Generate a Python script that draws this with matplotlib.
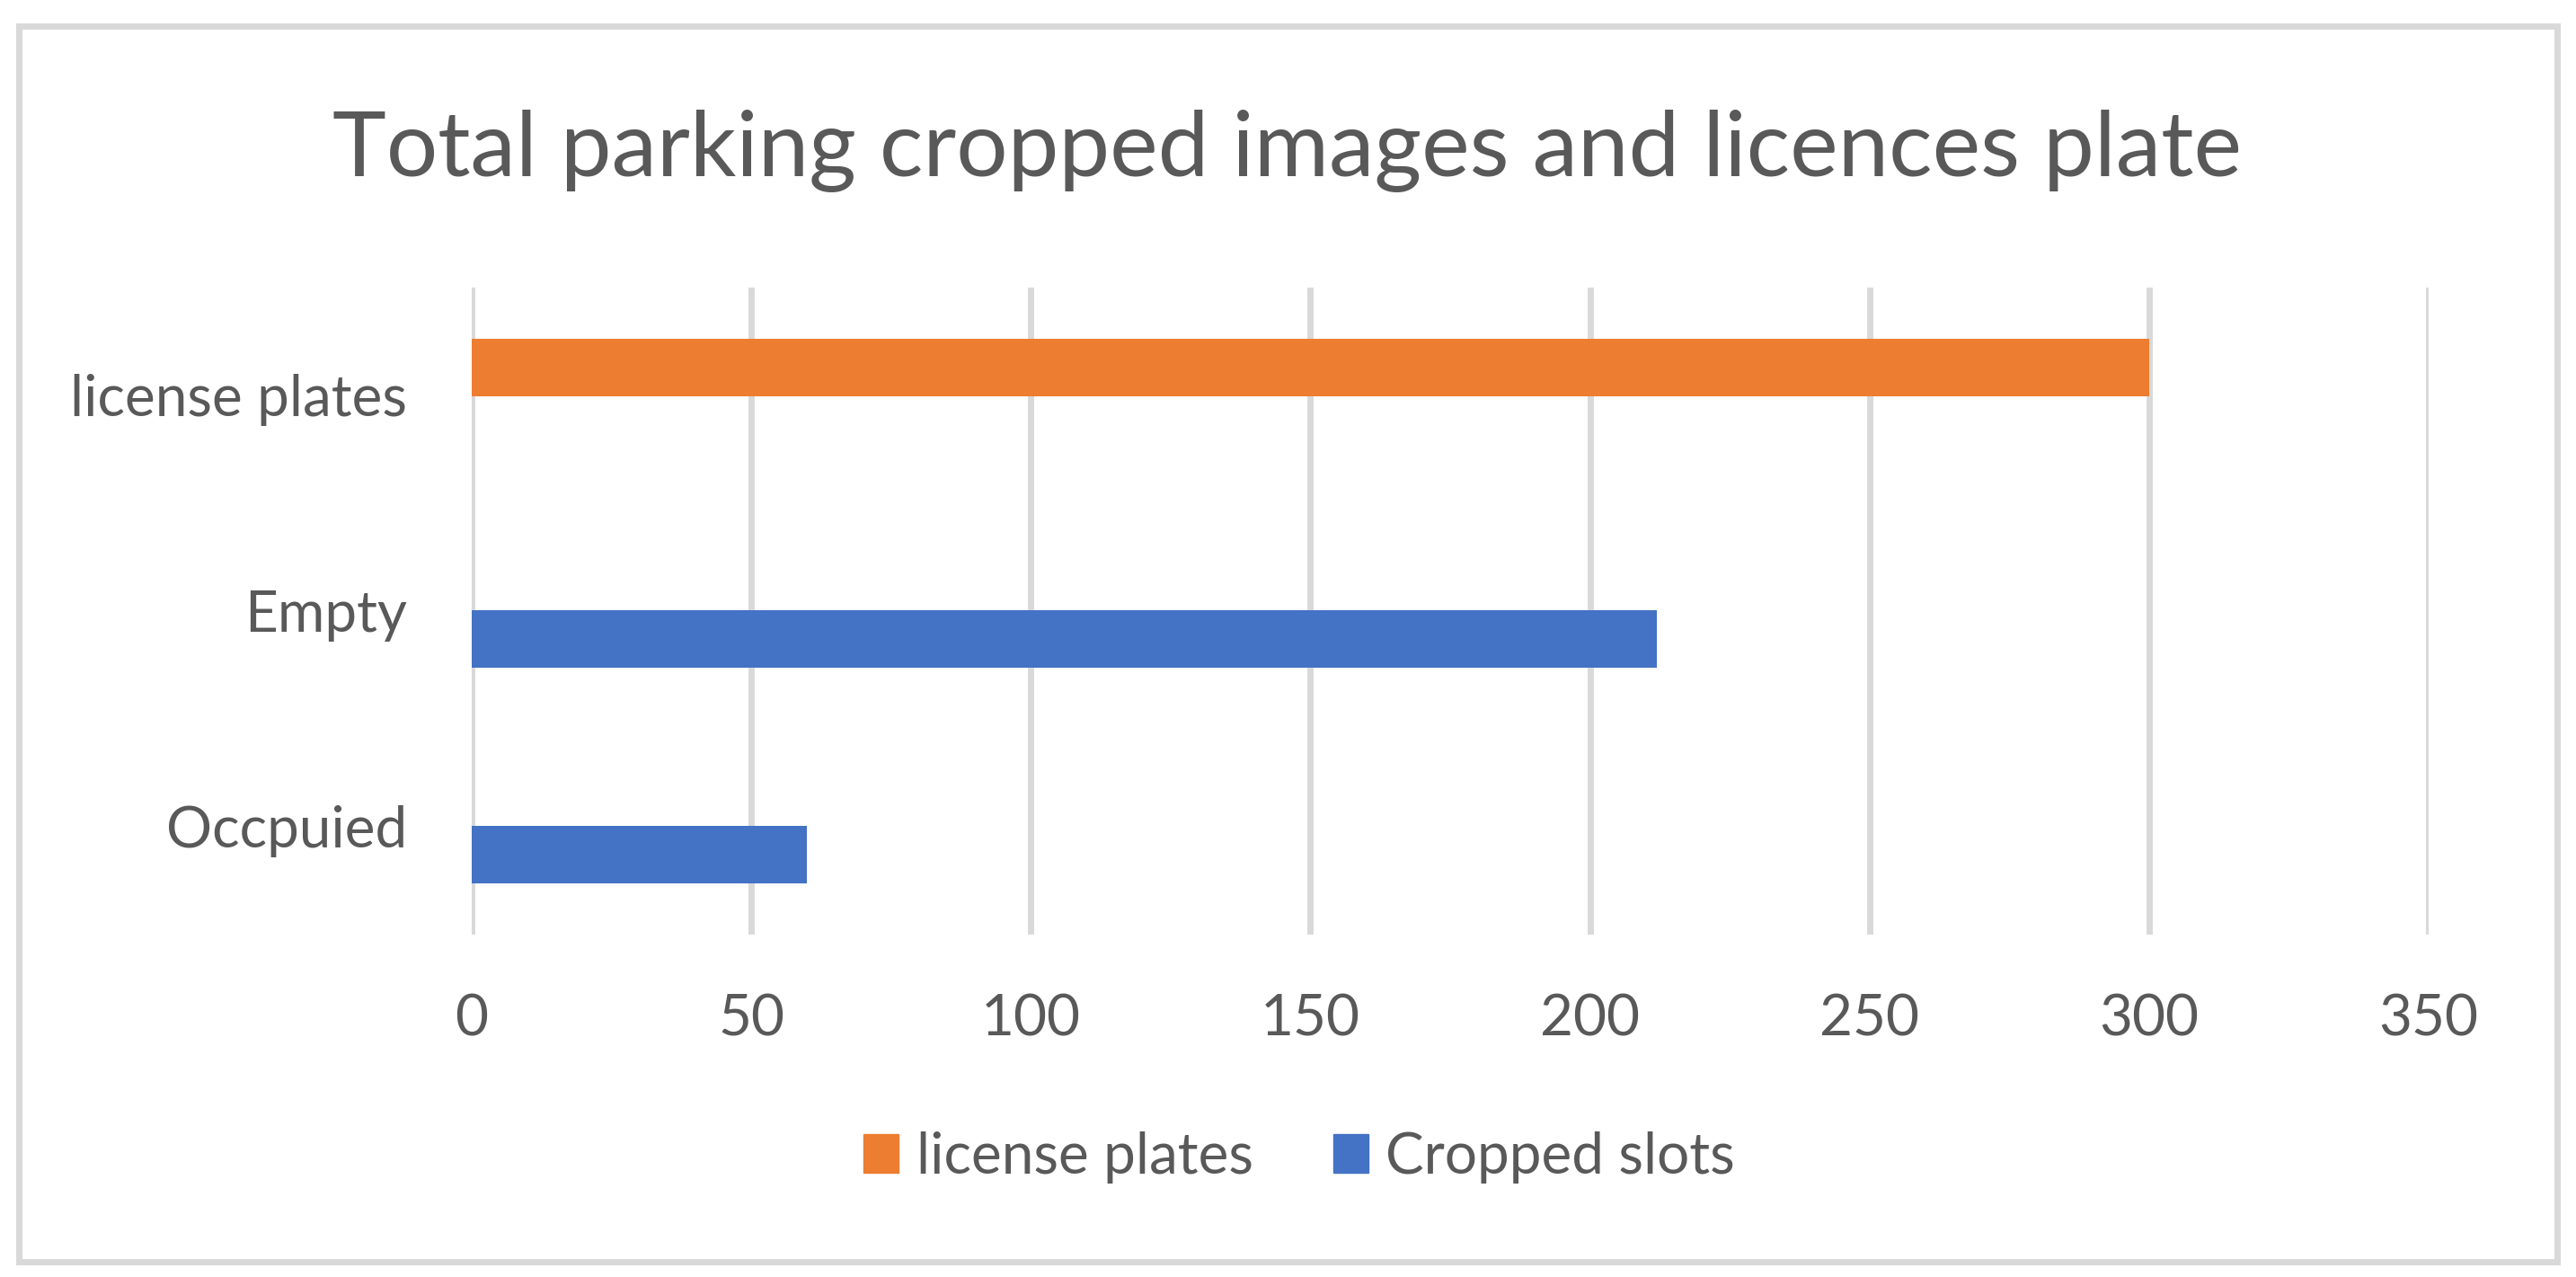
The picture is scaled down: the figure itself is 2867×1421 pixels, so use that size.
import numpy as np
import matplotlib
matplotlib.use("Agg")
import matplotlib.pyplot as plt
from matplotlib.patches import Rectangle, Patch

# ---- data ----
categories = ["Occpuied", "Empty", "license plates"]
license_plates = [np.nan, np.nan, 300]
cropped_slots = [60, 212, np.nan]
series_names = ["license plates", "Cropped slots"]
xticks = [0, 50, 100, 150, 200, 250, 300, 350]
title = "Total parking cropped images and licences plate"

W, H = 2867, 1421
DPI = 100
plt.rcParams['font.family'] = ['Lato', 'DejaVu Sans']
TXT = "#595959"
GRID = "#d9d9d9"
ORANGE = "#ED7D31"
BLUE = "#4472C4"

fig = plt.figure(figsize=(W / DPI, H / DPI), dpi=DPI)
fig.patch.set_facecolor("white")

# outer border
fig.patches.append(Rectangle((21 / W, 1 - 1404 / H), (2846 - 21) / W, (1404 - 29) / H,
                             transform=fig.transFigure, fill=False, edgecolor=GRID,
                             linewidth=5, zorder=0))

ax = fig.add_axes([525 / W, 1 - 1040 / H, (2703 - 525) / W, (1040 - 320) / H])
y = np.arange(len(categories))
h = 0.265
off = 0.13
ax.barh(y + off, license_plates, height=h, color=ORANGE, label=series_names[0], zorder=3)
ax.barh(y - off, cropped_slots, height=h, color=BLUE, label=series_names[1], zorder=3)

ax.set_xlim(0, 350)
ax.set_ylim(-0.5, len(categories) - 0.5)
ax.set_xticks(xticks)
ax.set_xticklabels([str(t) for t in xticks])
ax.set_yticks(y)
ax.set_yticklabels(categories)
ax.xaxis.grid(True, color=GRID, linewidth=5, zorder=0)
ax.set_axisbelow(True)
for s in ax.spines.values():
    s.set_visible(False)
ax.tick_params(axis='both', length=0, labelsize=46, colors=TXT)
ax.tick_params(axis='x', pad=47)
ax.tick_params(axis='y', pad=52)

fig.text(1433 / W, 1 - 168 / H, title, ha='center', va='center', fontsize=73, color=TXT)

handles = [Patch(color=ORANGE), Patch(color=BLUE)]
leg = fig.legend(handles, series_names, loc='center', bbox_to_anchor=(1446 / W, 1 - 1288 / H),
                 ncol=2, frameon=False, fontsize=46, handlelength=0.61, handleheight=0.64,
                 handletextpad=0.31, columnspacing=1.39, borderpad=0, borderaxespad=0)
for t in leg.get_texts():
    t.set_color(TXT)

fig.savefig("out.png", dpi=DPI, facecolor="white")
